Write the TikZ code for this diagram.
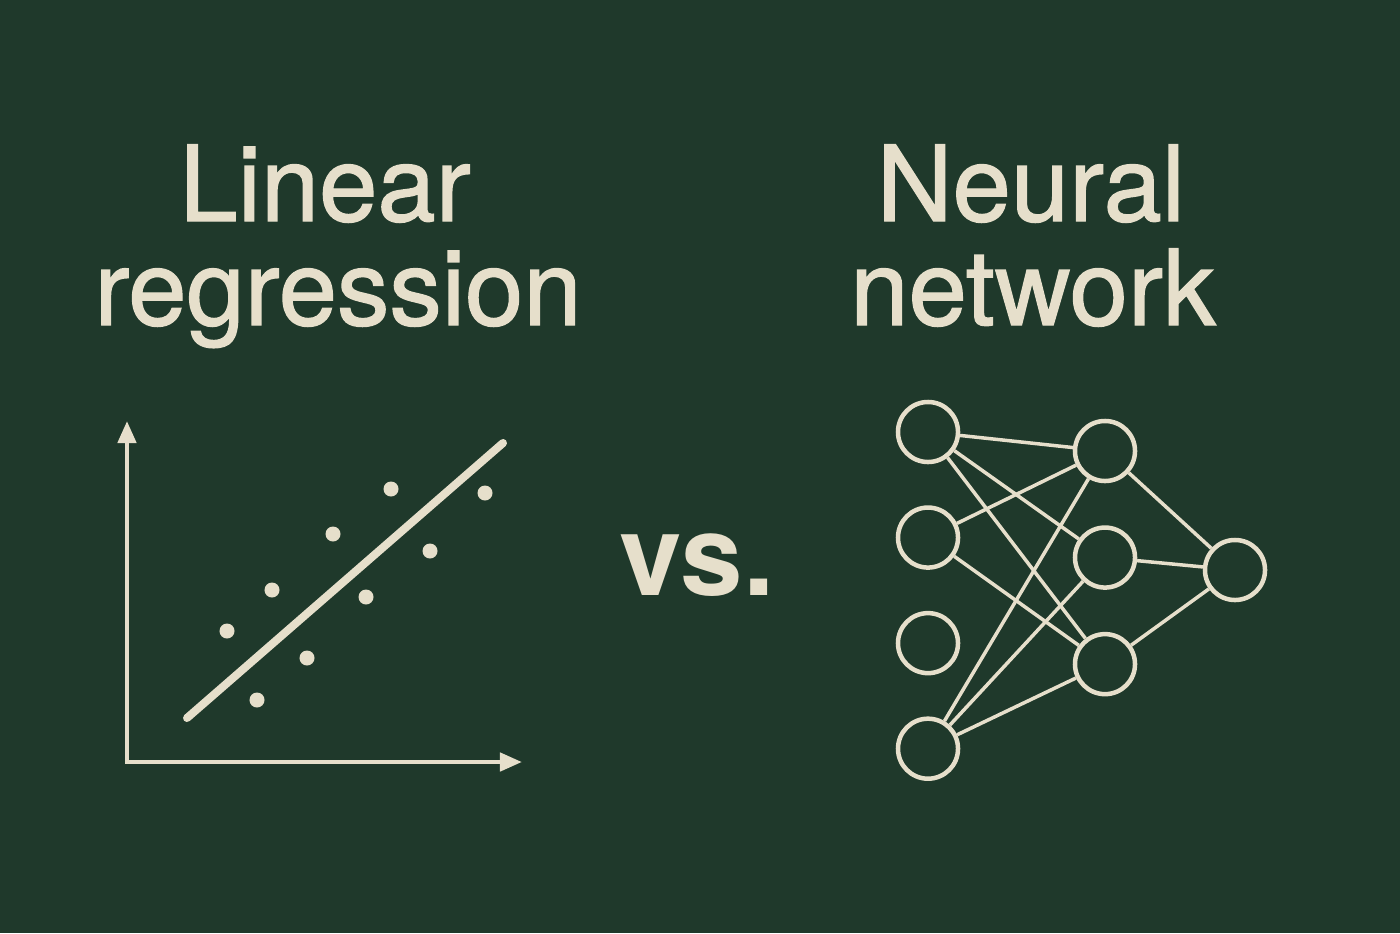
\documentclass[tikz,border=0pt]{standalone}
\usepackage{fontspec}
\setmainfont{TeX Gyre Heros}
\newfontface\medfont{TeX Gyre Heros}[FakeBold=1.3]
\usetikzlibrary{positioning,arrows.meta}
\definecolor{board}{RGB}{31,57,43}
\definecolor{chalk}{RGB}{230,223,203}
\tikzset{
  neuron/.style={circle,draw=chalk,line width=0.45mm,minimum size=6mm,inner sep=0pt},
  link/.style={draw=chalk,line width=0.35mm},
  axis/.style={draw=chalk,line width=0.45mm,{Triangle[length=2.2mm,width=1.8mm]}-{Triangle[length=2.2mm,width=1.8mm]}},
  fitline/.style={draw=chalk,line width=0.8mm,line cap=round},
  datum/.style={fill=chalk},
  title/.style={text=chalk,font=\medfont\fontsize{29.8}{31}\selectfont,anchor=base,inner sep=0pt}
}

\begin{document}
\begin{tikzpicture}[x=0.01cm,y=-0.01cm]
\fill[board] (0,0) rectangle (1400,933);
\useasboundingbox (0,0) rectangle (1400,933);
% titles
\node[title] (lin1) at (325,221) {Linear}; \node[title] (lin2) at (338,325) {regression};
\node[title] (nn1) at (1031,221) {Neural}; \node[title] (nn2) at (1033,325) {network};
\node[title,font=\fontsize{32}{34}\selectfont\bfseries] (vs) at (697,595) {vs.};
% regression plot
\coordinate (O) at (127,762); \coordinate (ytip) at (127,421); \coordinate (xtip) at (522,762);
\draw[axis] (ytip)--(O)--(xtip);
\coordinate (fitA) at (187,718); \coordinate (fitB) at (503,443);
\draw[fitline] (fitA)--(fitB);
\foreach \px/\py in {391/489,485/493,333/534,430/551,272/590,366/597,227/631,307/658,257/700}
  \fill[datum] (\px,\py) circle[radius=0.75mm];
% network
\node[neuron] (i1) at (928,432) {}; \node[neuron,below=4.1mm of i1] (i2) {};
\node[neuron,below=4.1mm of i2] (i3) {}; \node[neuron,below=4.1mm of i3] (i4) {};
\node[neuron] (h1) at (1105,451) {}; \node[neuron,below=4.2mm of h1] (h2) {}; \node[neuron,below=4.2mm of h2] (h3) {};
\node[neuron] (out) at (1235,570) {};
\foreach \a/\b in {i1/h1,i1/h2,i1/h3,i2/h1,i2/h3,i4/h1,i4/h2,i4/h3,h1/out,h2/out,h3/out}
  \draw[link] (\a)--(\b);
\end{tikzpicture}
\end{document}
